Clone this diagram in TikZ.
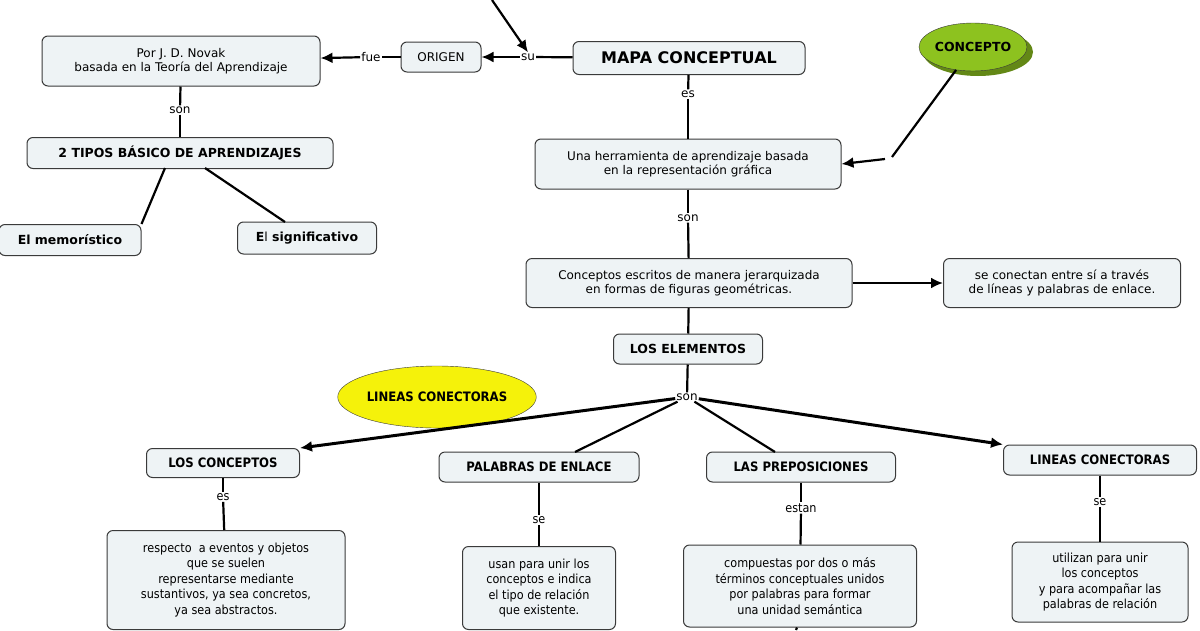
\documentclass[tikz,border=0pt]{standalone}
\usepackage{fontspec}
\setmainfont{DejaVu Sans}
\newfontfamily\cond{DejaVu Sans Condensed}
\usetikzlibrary{shapes.geometric,arrows.meta}
\definecolor{boxfill}{HTML}{EEF3F5}
\definecolor{boxline}{HTML}{3A3A3A}
\definecolor{cgreen}{HTML}{8DC21F}
\definecolor{cyellow}{HTML}{F5F20A}
\begin{document}
\begin{tikzpicture}[x=1pt,y=-1pt,
 box/.style={draw=boxline,line width=1pt,fill=boxfill,rounded corners=6pt,align=center,inner sep=2pt,font=\fontsize{12}{14}\selectfont},
 bbox/.style={box,font=\fontsize{12.5}{15}\selectfont\bfseries},
 cbox/.style={box,font=\cond\fontsize{12.5}{15.5}\selectfont},
 lab/.style={fill=white,inner sep=1pt,font=\fontsize{12}{14}\selectfont},
 clab/.style={fill=white,inner sep=1pt,font=\cond\fontsize{12.5}{14}\selectfont},
 ln/.style={line width=2.2pt,black},
 ar/.style={ln,-{Latex[length=12pt,width=11pt]}}]
\useasboundingbox (0,0) rectangle (1200,630);
\fill[white] (0,0) rectangle (1200,630);
% nodes
\node[box,minimum width=278pt,minimum height=50pt] (nov) at (181,61) {Por J. D. Novak\\basada en la Teoría del Aprendizaje};
\node[box,minimum width=80pt,minimum height=30pt] (ori) at (441,57) {ORIGEN};
\node[box,minimum width=232pt,minimum height=33pt,font=\fontsize{16}{18}\selectfont\bfseries] (map) at (689,58) {MAPA CONCEPTUAL};
\fill[cgreen!70!black] (978,52) ellipse (55pt and 24pt);
\node[ellipse,draw=boxline,fill=cgreen,minimum width=108pt,minimum height=48pt,inner sep=0pt,font=\fontsize{12.5}{15}\selectfont\bfseries] (con) at (973,47) {CONCEPTO};
\node[box,minimum width=306pt,minimum height=50pt] (her) at (688,164) {Una herramienta de aprendizaje basada\\en la representación gráfica};
\node[box,minimum width=326pt,minimum height=49pt] (esc) at (689,283) {Conceptos escritos de manera jerarquizada\\en formas de figuras geométricas.};
\node[box,minimum width=237pt,minimum height=49pt] (sec) at (1062,283) {se conectan entre sí a través\\de líneas y palabras de enlace.};
\node[bbox,minimum width=149pt,minimum height=30pt] (ele) at (688,349) {LOS ELEMENTOS};
\node[ellipse,draw=boxline,fill=cyellow,minimum width=190pt,minimum height=62pt,inner sep=0pt,font=\cond\fontsize{13}{15}\selectfont\bfseries] (lin) at (437,397) {LINEAS CONECTORAS};
\node[bbox,minimum width=306pt,minimum height=31pt] (tip) at (180,153) {2 TIPOS BÁSICO DE APRENDIZAJES};
\node[bbox,minimum width=142pt,minimum height=31pt] (mem) at (70,240) {El memorístico};
\node[bbox,minimum width=139pt,minimum height=32pt] (sig) at (307,238) {E{\mdseries l} significativo};
\node[bbox,font=\cond\fontsize{13}{15}\selectfont\bfseries,minimum width=153pt,minimum height=29pt] (lc) at (223,463) {LOS CONCEPTOS};
\node[bbox,font=\cond\fontsize{13}{15}\selectfont\bfseries,minimum width=200pt,minimum height=30pt] (pe) at (539,467) {PALABRAS DE ENLACE};
\node[bbox,font=\cond\fontsize{13}{15}\selectfont\bfseries,minimum width=189pt,minimum height=30pt] (pr) at (801,467) {LAS PREPOSICIONES};
\node[bbox,font=\cond\fontsize{13}{15}\selectfont\bfseries,minimum width=193pt,minimum height=30pt] (lcb) at (1100,460) {LINEAS CONECTORAS};
\node[cbox,minimum width=238pt,minimum height=99pt] (res) at (226,580) {respecto\ \ a eventos y objetos\\que se suelen\\representarse mediante\\sustantivos, ya sea concretos,\\ya sea abstractos.};
\node[cbox,minimum width=153pt,minimum height=83pt] (usa) at (539,588) {usan para unir los\\conceptos e indica\\el tipo de relación\\que existente.};
\node[cbox,minimum width=233pt,minimum height=82pt] (com) at (800,586) {compuestas por dos o más\\términos conceptuales unidos\\por palabras para formar\\una unidad semántica};
\node[cbox,minimum width=176pt,minimum height=80pt] (uti) at (1100,582) {utilizan para unir\\los conceptos\\y para acompañar las\\palabras de relación};
% link labels
\node[lab] (su) at (528,57) {su};
\node[lab] (fue) at (371,57) {fue};
\node[lab] (son1) at (180,110) {son};
\node[lab] (es1) at (688,94) {es};
\node[lab] (son2) at (688,218) {son};
\node[lab] (son3) at (687,397) {son};
\node[clab] (es2) at (223,497) {es};
\node[clab] (se1) at (539,520) {se};
\node[clab] (est) at (801,508) {estan};
\node[clab] (se2) at (1100,502) {se};
\coordinate (top) at (492,0);
\coordinate (bend) at (892,157);
\coordinate (abeg) at (885,159);
\coordinate (bot) at (796,630);
% connectors
\draw[ln] (map) -- (su); \draw[ar] (su) -- (ori);
\draw[ln] (ori) -- (fue); \draw[ar] (fue) -- (nov);
\draw[ar] (top) -- (su.north);
\draw[ln] (nov) -- (son1); \draw[ln] (son1) -- (tip);
\draw[ln] (165,168) -- (mem.north east) ++(0,0);
\draw[ln] (205,168) -- (285,222);
\draw[ln] (map) -- (es1); \draw[ln] (es1) -- (her);
\draw[ln] (her) -- (son2); \draw[ln] (son2) -- (esc);
\draw[ar] (esc) -- (sec);
\draw[ln] (esc) -- (ele); \draw[ln] (ele) -- (son3);
\draw[ln] (con) -- (bend);
\draw[ar] (abeg) -- (her.east);
\draw[ar,line width=3pt] (son3) -- (lc.north east);
\draw[ar,line width=3pt] (son3) -- (lcb.north west);
\draw[ln] (son3) -- (575,452);
\draw[ln] (son3) -- (775,452);
\draw[ln] (lc) -- (es2); \draw[ln] (es2) -- (res);
\draw[ln] (pe) -- (se1); \draw[ln] (se1) -- (usa);
\draw[ln] (pr) -- (est); \draw[ln] (est) -- (com);
\draw[ln] (lcb) -- (se2); \draw[ln] (se2) -- (uti);
\draw[ln] (com.south) ++(-3,0) -- (bot);
\end{tikzpicture}
\end{document}
